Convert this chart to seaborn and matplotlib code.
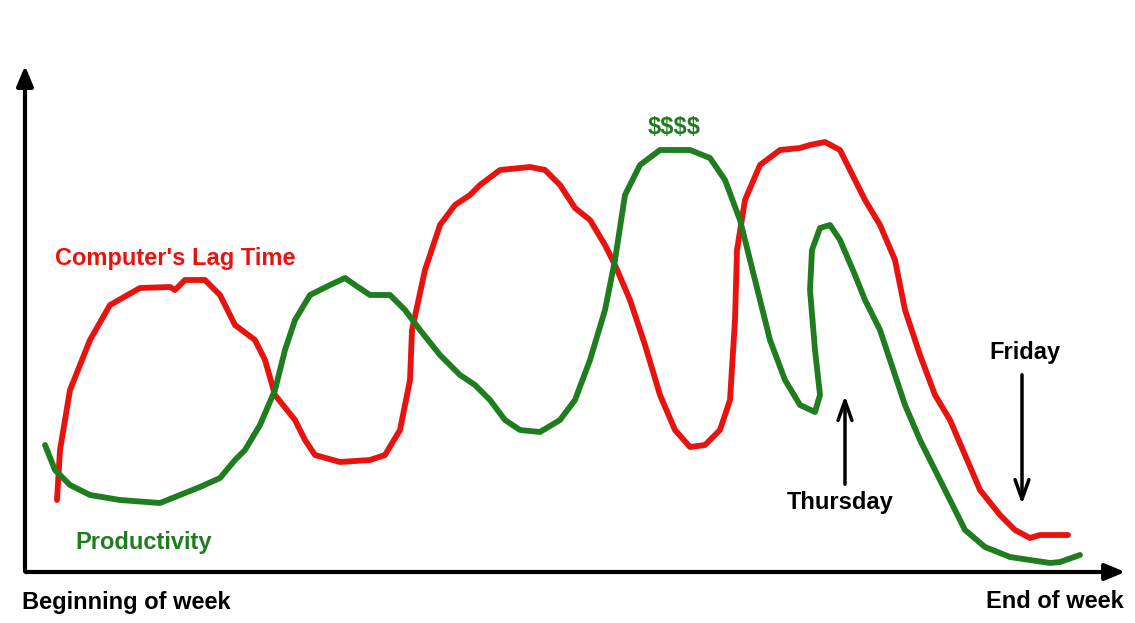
import numpy as np
import pandas as pd
import matplotlib
matplotlib.use("Agg")
import matplotlib.pyplot as plt
import seaborn as sns

sns.set_style("white")
plt.rcParams['font.family'] = ['Liberation Sans', 'DejaVu Sans']

# hand-drawn curves (x along the week, y as drawn, pixels)
lag_x = [57, 60, 70, 90, 110, 140, 170, 175, 185, 205, 220, 235, 255, 265, 275, 295, 305, 315, 340, 370,
         385, 400, 410, 412, 425, 440, 455, 470, 480, 500, 530, 545, 560, 575, 590, 605, 615, 630, 645, 660,
         675, 690, 705, 720, 730, 735, 737, 745, 760, 780, 800, 810, 825, 840, 850, 865, 880, 895, 905, 920,
         935, 950, 965, 980, 1000, 1015, 1030, 1040, 1068]
lag_y = [500, 450, 390, 340, 305, 288, 287, 290, 280, 280, 295, 325, 340, 360, 395, 420, 440, 455, 462, 460,
         455, 430, 380, 330, 270, 225, 205, 195, 185, 170, 167, 170, 185, 208, 220, 245, 265, 300, 345, 395,
         430, 447, 445, 430, 400, 320, 250, 200, 165, 150, 148, 145, 142, 150, 170, 200, 225, 260, 310, 355,
         395, 420, 455, 490, 515, 530, 538, 535, 535]

prod_x = [45, 55, 70, 90, 120, 160, 180, 200, 220, 235, 245, 260, 275, 285, 295, 310, 330, 345, 355, 370,
          390, 405, 420, 440, 460, 475, 490, 505, 520, 540, 560, 575, 590, 605, 615, 625, 640, 660, 690, 710,
          725, 740, 755, 770, 785, 800, 815, 820, 815, 810, 812, 820, 830, 840, 855, 865, 880, 895, 905, 920,
          935, 950, 965, 985, 1010, 1050, 1060, 1080]
prod_y = [445, 470, 485, 495, 500, 503, 495, 487, 478, 460, 450, 425, 390, 350, 320, 295, 285, 278, 285, 295,
          295, 310, 330, 355, 375, 385, 400, 420, 430, 432, 420, 400, 360, 310, 260, 195, 165, 150, 150, 158,
          180, 220, 280, 340, 380, 405, 412, 395, 350, 290, 250, 228, 225, 240, 275, 300, 330, 375, 405, 440,
          470, 500, 530, 547, 557, 563, 562, 555]

red = "#e8130f"
green = "#1f7d1f"

fig = plt.figure(figsize=(11.35, 6.23), dpi=100)
ax = fig.add_axes([0, 0, 1, 1])

lag = pd.DataFrame({"x": lag_x, "y": lag_y})
prod = pd.DataFrame({"x": prod_x, "y": prod_y})
sns.lineplot(data=lag, x="x", y="y", sort=False, estimator=None, color=red, lw=4.2,
             solid_joinstyle="round", solid_capstyle="round", ax=ax)
sns.lineplot(data=prod, x="x", y="y", sort=False, estimator=None, color=green, lw=4.2,
             solid_joinstyle="round", solid_capstyle="round", ax=ax)

ax.set_xlim(0, 1135)
ax.set_ylim(623, 0)
ax.axis("off")

arrow = dict(arrowstyle="-|>,head_width=0.5,head_length=1.2", color="black", lw=3)
ax.annotate("", xy=(25, 63), xytext=(25, 574), arrowprops=arrow)
ax.annotate("", xy=(1128, 572), xytext=(23, 572), arrowprops=arrow)
ax.annotate("", xy=(845, 393), xytext=(845, 487), arrowprops=dict(arrowstyle="->,head_width=0.5,head_length=1.4", color="black", lw=2.5))
ax.annotate("", xy=(1022, 507), xytext=(1022, 372), arrowprops=dict(arrowstyle="->,head_width=0.5,head_length=1.4", color="black", lw=2.5))

fs = 17
ax.text(55, 259, "Computer's Lag Time", color=red, fontsize=fs, weight="bold", va="center")
ax.text(75, 542, "Productivity", color=green, fontsize=fs, weight="bold", va="center")
ax.text(674, 128, r"\$\$\$\$", color=green, fontsize=fs, weight="bold", va="center", ha="center")
ax.text(840, 502, "Thursday", color="black", fontsize=fs, weight="bold", va="center", ha="center")
ax.text(1025, 352, "Friday", color="black", fontsize=fs, weight="bold", va="center", ha="center")
ax.text(22, 602, "Beginning of week", color="black", fontsize=fs, weight="bold", va="center")
ax.text(1124, 601, "End of week", color="black", fontsize=fs, weight="bold", va="center", ha="right")

fig.savefig("out.png", dpi=100)
